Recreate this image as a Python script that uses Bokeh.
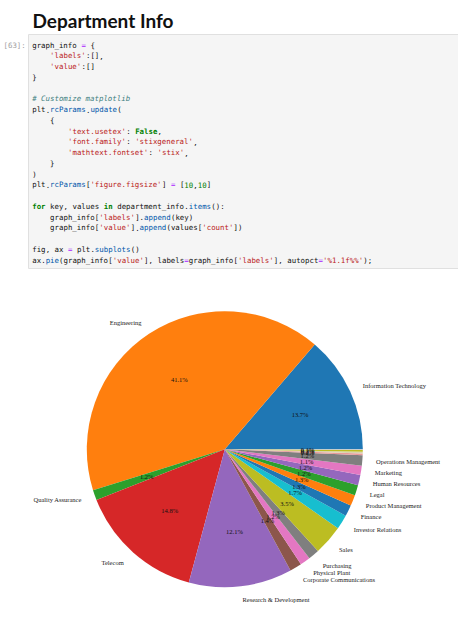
import math
import re
import numpy as np
from bokeh.plotting import figure
from bokeh.models import ColumnDataSource, Range1d
from bokeh.core.properties import value
from bokeh.embed import file_html
from bokeh.resources import INLINE

# ---------------- data (percent of total) ----------------
departments = [
    "Information Technology", "Engineering", "Quality Assurance", "Telecom",
    "Research & Development", "Corporate Communications", "Physical Plant",
    "Purchasing", "Sales", "Investor Relations", "Finance", "Product Management",
    "Legal", "Human Resources", "Marketing", "Operations Management",
    "", "", "", "",
]
counts = [13.7, 41.1, 1.2, 14.8, 12.1, 1.4, 1.2, 1.3, 3.5, 1.7, 1.3, 1.3,
          1.2, 1.2, 1.1, 1.2, 0.2, 0.2, 0.2, 0.1]
slice_colors = ["#1f77b4", "#ff7f0e", "#2ca02c", "#d62728", "#9467bd", "#8c564b",
                "#e377c2", "#7f7f7f", "#bcbd22", "#17becf", "#1f77b4", "#ff7f0e",
                "#2ca02c", "#9467bd", "#e377c2", "#7f7f7f", "#e89a9a", "#d9d2b0",
                "#bcbd22", "#c7c7c7"]

heading = "Department Info"
prompt = "[63]:"
code_lines = [
    "graph_info = {",
    "    'labels':[],",
    "    'value':[]",
    "}",
    "",
    "# Customize matplotlib",
    "plt.rcParams.update(",
    "    {",
    "        'text.usetex': False,",
    "        'font.family': 'stixgeneral',",
    "        'mathtext.fontset': 'stix',",
    "    }",
    ")",
    "plt.rcParams['figure.figsize'] = [10,10]",
    "",
    "for key, values in department_info.items():",
    "    graph_info['labels'].append(key)",
    "    graph_info['value'].append(values['count'])",
    "",
    "fig, ax = plt.subplots()",
    "ax.pie(graph_info['value'], labels=graph_info['labels'], autopct='%1.1f%%');",
]

# ---------------- figure: data units == picture pixels (y negated) ----------------
W, H = 458, 605
p = figure(width=W, height=H, output_backend="svg", toolbar_location=None,
           x_range=Range1d(0, W), y_range=Range1d(-H, 0),
           x_axis_location=None, y_axis_location=None, min_border=0)
p.grid.grid_line_color = None
p.outline_line_color = None
p.background_fill_color = "white"
p.border_fill_color = "white"

# heading
p.text(x=[32], y=[-20], text=[heading], text_font=value("Lato"),
       text_font_size="19px", text_font_style="bold", text_color="#111111",
       text_baseline="alphabetic", text_align="left")

# code cell box
p.quad(left=[28], right=[W + 2], top=[-34], bottom=[-268],
       fill_color="#f5f5f5", line_color="#e0e0e0", line_width=1)

# prompt
p.text(x=[3], y=[-44.6], text=[prompt], text_font=value("DejaVu Sans Mono"),
       text_font_size="7.4px", text_color="#9e9e9e", text_baseline="middle")

# syntax-coloured code
tok_re = re.compile(
    r"(?P<comment>#.*)|(?P<string>'[^']*')|(?P<kw>\b(?:for|in|False|True|None)\b)"
    r"|(?P<num>\b\d+\b)|(?P<prop>(?<=\.)[A-Za-z_]\w*)|(?P<op>=)"
    r"|(?P<name>[A-Za-z_]\w*)|(?P<ws>\s+)|(?P<punct>.)")
tok_color = {"comment": "#408080", "string": "#ba2121", "kw": "#008000",
             "num": "#008000", "prop": "#0055aa", "op": "#aa22ff",
             "name": "#111111", "punct": "#111111"}
tok_style = {"comment": "italic", "kw": "bold"}
groups = {"normal": dict(x=[], y=[], text=[], color=[]),
          "bold": dict(x=[], y=[], text=[], color=[]),
          "italic": dict(x=[], y=[], text=[], color=[])}
x0, cw, y0, lh = 31.7, 4.475, 44.6, 10.75
for i, line in enumerate(code_lines):
    for m in tok_re.finditer(line):
        kind = m.lastgroup
        if kind == "ws":
            continue
        st = tok_style.get(kind, "normal")
        g = groups[st]
        g["x"].append(x0 + m.start() * cw)
        g["y"].append(-(y0 + i * lh))
        g["text"].append(m.group())
        g["color"].append(tok_color[kind])
for st, g in groups.items():
    p.text(x="x", y="y", text="text", text_color="color", source=ColumnDataSource(g),
           text_font=value("DejaVu Sans Mono"), text_font_size="7.4px",
           text_font_style=st, text_baseline="middle", text_align="left")

# ---------------- pie ----------------
cx, cy, R = 224.3, -448.7, 138.0
vals = np.array(counts, dtype=float)
frac = vals / vals.sum()
ends = np.cumsum(frac) * 2 * math.pi
starts = ends - frac * 2 * math.pi
mids = (starts + ends) / 2

pie_src = ColumnDataSource(dict(start=starts, end=ends, color=slice_colors))
p.wedge(x=cx, y=cy, radius=R, start_angle="start", end_angle="end",
        fill_color="color", line_color=None, source=pie_src)

left_lab = dict(x=[], y=[], text=[])
right_lab = dict(x=[], y=[], text=[])
for name, a in zip(departments, mids):
    if not name:
        continue
    lx, ly = cx + 1.1 * R * math.cos(a), cy + 1.1 * R * math.sin(a)
    d = left_lab if math.cos(a) > 0 else right_lab
    d["x"].append(lx); d["y"].append(ly); d["text"].append(name)
for d, al in ((left_lab, "left"), (right_lab, "right")):
    p.text(x="x", y="y", text="text", source=ColumnDataSource(d),
           text_font=value("Liberation Serif"), text_font_size="6.5px",
           text_color="#222222", text_align=al, text_baseline="middle")

pct = dict(x=[cx + 0.6 * R * math.cos(a) for a in mids],
           y=[cy + 0.6 * R * math.sin(a) for a in mids],
           text=["%1.1f%%" % (f * 100) for f in frac])
p.text(x="x", y="y", text="text", source=ColumnDataSource(pct),
       text_font=value("Liberation Serif"), text_font_size="6.5px",
       text_color="#111111", text_align="center", text_baseline="middle")

open("out.html", "w").write(file_html(p, INLINE))
